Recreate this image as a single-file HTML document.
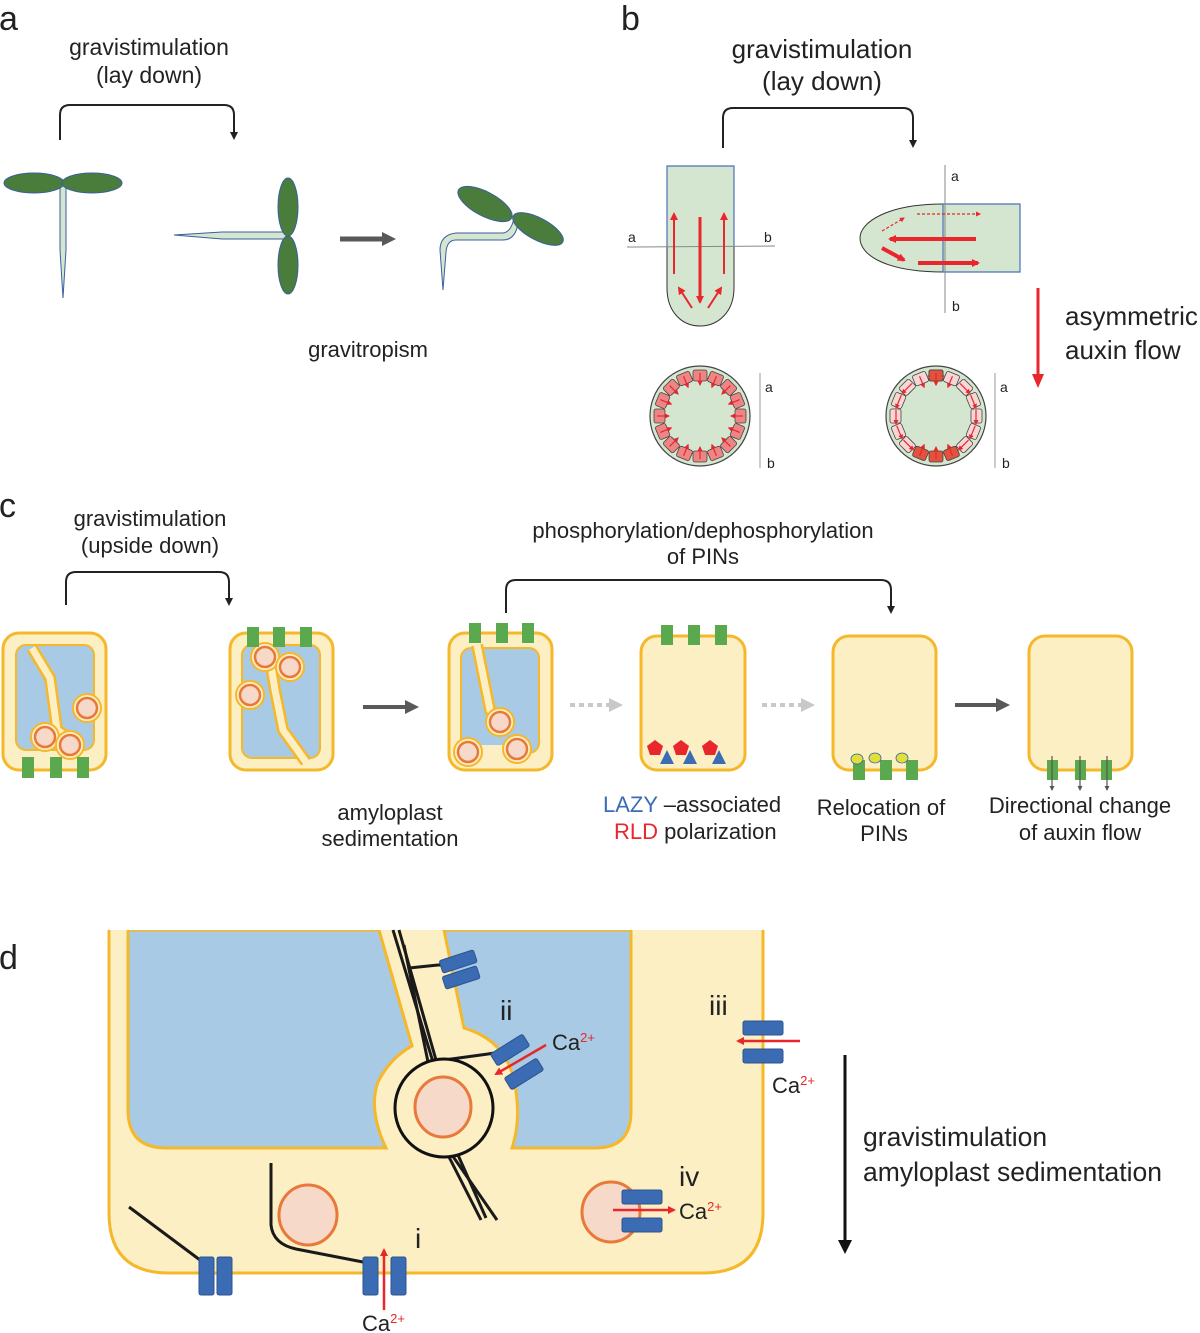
<!DOCTYPE html>
<html><head><meta charset="utf-8"><style>
html,body{margin:0;padding:0;background:#fff}
svg{display:block}
text{font-family:"Liberation Sans",sans-serif;fill:#222}
</style></head><body>
<svg width="1200" height="1333" viewBox="0 0 1200 1333" xmlns="http://www.w3.org/2000/svg">
<defs>
<marker id="ak" markerWidth="8" markerHeight="8" refX="6" refY="4" orient="auto" markerUnits="userSpaceOnUse"><path d="M0,0 L8,4 L0,8 Z" fill="#222"/></marker>
<marker id="ar" markerWidth="8" markerHeight="8" refX="6" refY="4" orient="auto" markerUnits="userSpaceOnUse"><path d="M0,0 L8,4 L0,8 Z" fill="#e8262b"/></marker>
<marker id="arb" markerWidth="14" markerHeight="12" refX="10" refY="6" orient="auto" markerUnits="userSpaceOnUse"><path d="M0,0 L14,6 L0,12 Z" fill="#e8262b"/></marker>
<marker id="ars" markerWidth="5" markerHeight="5" refX="4" refY="2.5" orient="auto" markerUnits="userSpaceOnUse"><path d="M0,0 L5,2.5 L0,5 Z" fill="#e8262b"/></marker>
<marker id="ag" markerWidth="5" markerHeight="5" refX="4" refY="2.5" orient="auto" markerUnits="userSpaceOnUse"><path d="M0,0 L5,2.5 L0,5 Z" fill="#555"/></marker>
<marker id="agb" markerWidth="14" markerHeight="14" refX="2" refY="7" orient="auto" markerUnits="userSpaceOnUse"><path d="M0,0 L14,7 L0,14 Z" fill="#595959"/></marker>
<marker id="alg" markerWidth="14" markerHeight="14" refX="2" refY="7" orient="auto" markerUnits="userSpaceOnUse"><path d="M0,0 L14,7 L0,14 Z" fill="#c8c8c8"/></marker>
<marker id="abk" markerWidth="14" markerHeight="14" refX="10" refY="7" orient="auto" markerUnits="userSpaceOnUse"><path d="M0,0 L14,7 L0,14 Z" fill="#111"/></marker>
</defs>

<!-- ===== Panel a ===== -->
<text x="-1" y="30" font-size="34">a</text>
<text x="149" y="55" font-size="23" text-anchor="middle">gravistimulation</text>
<text x="149" y="83" font-size="23" text-anchor="middle">(lay down)</text>
<path d="M60,140 V115 Q60,105 70,105 H224 Q234,105 234,115 V138" fill="none" stroke="#222" stroke-width="2" marker-end="url(#ak)"/>
<path d="M60,185 H66 V250 L63,298 L60,250 Z" fill="#d4e6d0" stroke="#3a5fa0" stroke-width="1"/>
<ellipse cx="34" cy="183" rx="30" ry="10" fill="#4a7c3c" stroke="#3a5fa0" stroke-width="1"/>
<ellipse cx="92" cy="183" rx="30" ry="10" fill="#4a7c3c" stroke="#3a5fa0" stroke-width="1"/>
<path d="M174,235 L222,232 H288 V239 H222 Z" fill="#d4e6d0" stroke="#3a5fa0" stroke-width="1"/>
<ellipse cx="288" cy="207" rx="10" ry="29" fill="#4a7c3c" stroke="#3a5fa0" stroke-width="1"/>
<ellipse cx="288" cy="265" rx="10" ry="29" fill="#4a7c3c" stroke="#3a5fa0" stroke-width="1"/>
<line x1="340" y1="239" x2="384" y2="239" stroke="#595959" stroke-width="5" marker-end="url(#agb)"/>
<path d="M443,290 L440,250 Q440,235 456,233 H503 Q510,232 513,222 L518,224 Q515,240 503,240 H456 Q447,240 446,252 L443,290 Z" fill="#d4e6d0" stroke="#3a5fa0" stroke-width="1"/>
<ellipse cx="485" cy="204" rx="30" ry="12" transform="rotate(28 485 204)" fill="#4a7c3c" stroke="#3a5fa0" stroke-width="1"/>
<ellipse cx="538" cy="229" rx="28" ry="11" transform="rotate(28 538 229)" fill="#4a7c3c" stroke="#3a5fa0" stroke-width="1"/>
<text x="368" y="357" font-size="22" text-anchor="middle">gravitropism</text>

<!-- ===== Panel b ===== -->
<text x="621" y="30" font-size="34">b</text>
<text x="822" y="58" font-size="26" text-anchor="middle">gravistimulation</text>
<text x="822" y="90" font-size="26" text-anchor="middle">(lay down)</text>
<path d="M723,148 V118 Q723,108 733,108 H903 Q913,108 913,118 V146" fill="none" stroke="#222" stroke-width="2" marker-end="url(#ak)"/>
<path d="M667,166 H734 V288 C734,312 718,326 700,326 C682,326 667,312 667,288 Z" fill="#d4e6d0" stroke="#333" stroke-width="1"/>
<path d="M667,247 V166 H734 V247" fill="none" stroke="#4a72b8" stroke-width="1.2"/>
<line x1="627" y1="247" x2="775" y2="246" stroke="#888" stroke-width="1"/>
<text x="628" y="242" font-size="14">a</text>
<text x="764" y="242" font-size="14">b</text>
<g stroke="#e8262b" fill="none">
<line x1="674" y1="274" x2="674" y2="214" stroke-width="2" marker-end="url(#ar)"/>
<line x1="724" y1="274" x2="724" y2="214" stroke-width="2" marker-end="url(#ar)"/>
<line x1="700" y1="217" x2="700" y2="302" stroke-width="3" marker-end="url(#ar)"/>
<line x1="692" y1="308" x2="679" y2="288" stroke-width="2" marker-end="url(#ar)"/>
<line x1="708" y1="308" x2="721" y2="288" stroke-width="2" marker-end="url(#ar)"/>
</g>
<path d="M1020,204 H943 C888,204 860,222 860,238 C860,256 888,272 943,272 H1020 Z" fill="#d4e6d0" stroke="#333" stroke-width="1"/>
<path d="M943,204 H1020 V272 H943 V204" fill="none" stroke="#4a72b8" stroke-width="1.2"/>
<line x1="945" y1="165" x2="945" y2="313" stroke="#888" stroke-width="1"/>
<text x="951" y="181" font-size="14">a</text>
<text x="952" y="311" font-size="14">b</text>
<g stroke="#e8262b" fill="none">
<line x1="976" y1="239" x2="890" y2="239" stroke-width="4" marker-end="url(#ar)"/>
<line x1="918" y1="263" x2="978" y2="263" stroke-width="4" marker-end="url(#ar)"/>
<line x1="882" y1="248" x2="904" y2="260" stroke-width="4" marker-end="url(#ar)"/>
<line x1="882" y1="231" x2="904" y2="218" stroke-width="1.2" stroke-dasharray="3,2" marker-end="url(#ars)"/>
<line x1="917" y1="214" x2="980" y2="214" stroke-width="1.2" stroke-dasharray="3,2" marker-end="url(#ars)"/>
</g>
<line x1="1038" y1="288" x2="1038" y2="384" stroke="#e8262b" stroke-width="3" marker-end="url(#arb)"/>
<text x="1065" y="325" font-size="26">asymmetric</text>
<text x="1065" y="359" font-size="26">auxin flow</text>

<circle cx="700" cy="416" r="50" fill="#d4e6d0" stroke="#444" stroke-width="1.2"/>
<g fill="#ee8585" stroke="#444" stroke-width="0.8">
<g id="cl">
<rect x="693" y="370" width="14" height="11" rx="2"/>
<line x1="700" y1="373" x2="700" y2="385" stroke="#e8262b" stroke-width="1.2" marker-end="url(#ars)"/>
</g>
<use href="#cl" transform="rotate(22.5 700 416)"/><use href="#cl" transform="rotate(45 700 416)"/><use href="#cl" transform="rotate(67.5 700 416)"/>
<use href="#cl" transform="rotate(90 700 416)"/><use href="#cl" transform="rotate(112.5 700 416)"/><use href="#cl" transform="rotate(135 700 416)"/>
<use href="#cl" transform="rotate(157.5 700 416)"/><use href="#cl" transform="rotate(180 700 416)"/><use href="#cl" transform="rotate(202.5 700 416)"/>
<use href="#cl" transform="rotate(225 700 416)"/><use href="#cl" transform="rotate(247.5 700 416)"/><use href="#cl" transform="rotate(270 700 416)"/>
<use href="#cl" transform="rotate(292.5 700 416)"/><use href="#cl" transform="rotate(315 700 416)"/><use href="#cl" transform="rotate(337.5 700 416)"/>
</g>
<line x1="760" y1="373" x2="760" y2="468" stroke="#999" stroke-width="1"/>
<text x="765" y="392" font-size="14">a</text>
<text x="767" y="468" font-size="14">b</text>

<circle cx="936" cy="416" r="50" fill="#d4e6d0" stroke="#444" stroke-width="1.2"/>
<g stroke="#444" stroke-width="0.8">
<g id="ct" fill="#f9d6d6"><rect x="929" y="370" width="14" height="11" rx="2"/><line x1="936" y1="373" x2="936" y2="385" stroke="#e8262b" stroke-width="1.2" marker-end="url(#ars)"/></g>
<use href="#ct" transform="rotate(22.5 936 416)"/><use href="#ct" transform="rotate(-22.5 936 416)"/>
<g id="cr" fill="#f9d6d6"><rect x="929" y="370" width="14" height="11" rx="2"/><line x1="930" y1="376" x2="944" y2="376" stroke="#e8262b" stroke-width="1.2" marker-end="url(#ars)"/></g>
<use href="#cr" transform="rotate(45 936 416)"/><use href="#cr" transform="rotate(67.5 936 416)"/><use href="#cr" transform="rotate(90 936 416)"/><use href="#cr" transform="rotate(112.5 936 416)"/><use href="#cr" transform="rotate(135 936 416)"/>
<g id="cf" fill="#f9d6d6"><rect x="929" y="370" width="14" height="11" rx="2"/><line x1="942" y1="376" x2="928" y2="376" stroke="#e8262b" stroke-width="1.2" marker-end="url(#ars)"/></g>
<use href="#cf" transform="rotate(-45 936 416)"/><use href="#cf" transform="rotate(-67.5 936 416)"/><use href="#cf" transform="rotate(-90 936 416)"/><use href="#cf" transform="rotate(-112.5 936 416)"/><use href="#cf" transform="rotate(-135 936 416)"/>
<g id="cb" fill="#e2533e"><rect x="929" y="370" width="14" height="11" rx="2"/><line x1="936" y1="373" x2="936" y2="385" stroke="#e8262b" stroke-width="1.2" marker-end="url(#ars)"/></g>
<use href="#cb" transform="rotate(180 936 416)"/><use href="#cb" transform="rotate(157.5 936 416)"/><use href="#cb" transform="rotate(202.5 936 416)"/>
</g>
<line x1="995" y1="373" x2="995" y2="468" stroke="#999" stroke-width="1"/>
<text x="1000" y="392" font-size="14">a</text>
<text x="1002" y="468" font-size="14">b</text>

<!-- ===== Panel c ===== -->
<text x="-1" y="517" font-size="34">c</text>
<text x="150" y="526" font-size="22" text-anchor="middle">gravistimulation</text>
<text x="150" y="553" font-size="22" text-anchor="middle">(upside down)</text>
<path d="M66,605 V582 Q66,572 76,572 H219 Q229,572 229,582 V604" fill="none" stroke="#222" stroke-width="2" marker-end="url(#ak)"/>
<text x="703" y="538" font-size="22" text-anchor="middle">phosphorylation/dephosphorylation</text>
<text x="703" y="564" font-size="22" text-anchor="middle">of PINs</text>
<path d="M506,613 V590 Q506,580 516,580 H881 Q891,580 891,590 V612" fill="none" stroke="#222" stroke-width="2" marker-end="url(#ak)"/>

<g stroke="#f5b82a" stroke-width="3">
<rect x="3" y="633" width="103" height="137" rx="16" fill="#fcefc4"/>
<rect x="16" y="645" width="78" height="105" rx="10" fill="#a8cae4" stroke-width="2"/>
<polyline points="32,648 50,678 57,730 75,742" fill="none" stroke-width="12" stroke-linejoin="round"/>
<polyline points="32,648 50,678 57,730 75,742" fill="none" stroke="#fcefc4" stroke-width="7" stroke-linejoin="round"/>
<circle cx="87" cy="708" r="14" fill="#fcefc4" stroke-width="2"/><circle cx="45" cy="737" r="14" fill="#fcefc4" stroke-width="2"/><circle cx="70" cy="745" r="14" fill="#fcefc4" stroke-width="2"/>
<rect x="230" y="633" width="103" height="137" rx="16" fill="#fcefc4"/>
<rect x="242" y="645" width="78" height="113" rx="10" fill="#a8cae4" stroke-width="2"/>
<polyline points="270,660 275,690 283,730 306,762" fill="none" stroke-width="12" stroke-linejoin="round"/>
<polyline points="270,660 275,690 283,730 306,762" fill="none" stroke="#fcefc4" stroke-width="7" stroke-linejoin="round"/>
<circle cx="265" cy="657" r="14" fill="#fcefc4" stroke-width="2"/><circle cx="290" cy="667" r="14" fill="#fcefc4" stroke-width="2"/><circle cx="250" cy="695" r="14" fill="#fcefc4" stroke-width="2"/>
<rect x="449" y="633" width="103" height="137" rx="16" fill="#fcefc4"/>
<rect x="461" y="648" width="78" height="105" rx="10" fill="#a8cae4" stroke-width="2"/>
<polyline points="477,645 490,710 500,722" fill="none" stroke-width="12" stroke-linejoin="round"/>
<polyline points="477,645 490,710 500,722" fill="none" stroke="#fcefc4" stroke-width="7" stroke-linejoin="round"/>
<rect x="465" y="745" width="60" height="12" fill="#fcefc4" stroke="none"/>
<circle cx="500" cy="722" r="14" fill="#fcefc4" stroke-width="2"/><circle cx="468" cy="752" r="14" fill="#fcefc4" stroke-width="2"/><circle cx="517" cy="749" r="14" fill="#fcefc4" stroke-width="2"/>
<rect x="641" y="636" width="104" height="134" rx="16" fill="#fcefc4"/>
<rect x="833" y="636" width="103" height="134" rx="16" fill="#fcefc4"/>
<rect x="1029" y="636" width="103" height="134" rx="16" fill="#fcefc4"/>
</g>
<g fill="#f6d9c9" stroke="#e8793a" stroke-width="2.5">
<circle cx="87" cy="708" r="10"/><circle cx="45" cy="737" r="10"/><circle cx="70" cy="745" r="10"/>
<circle cx="265" cy="657" r="10"/><circle cx="290" cy="667" r="10"/><circle cx="250" cy="695" r="10"/>
<circle cx="500" cy="722" r="10"/><circle cx="468" cy="752" r="10"/><circle cx="517" cy="749" r="10"/>
</g>
<g fill="#5aa94e">
<rect x="22" y="757" width="12" height="21"/><rect x="50" y="757" width="12" height="21"/><rect x="77" y="757" width="12" height="21"/>
<rect x="247" y="627" width="12" height="20"/><rect x="273" y="627" width="12" height="20"/><rect x="300" y="627" width="12" height="20"/>
<rect x="469" y="623" width="12" height="20"/><rect x="496" y="623" width="12" height="20"/><rect x="522" y="623" width="12" height="20"/>
<rect x="661" y="625" width="12" height="20"/><rect x="688" y="625" width="12" height="20"/><rect x="715" y="625" width="12" height="20"/>
<rect x="853" y="760" width="12" height="20"/><rect x="880" y="760" width="12" height="20"/><rect x="906" y="760" width="12" height="20"/>
<rect x="1047" y="760" width="11" height="20"/><rect x="1075" y="760" width="11" height="20"/><rect x="1101" y="760" width="11" height="20"/>
</g>
<g fill="#e8262b">
<polygon points="655,740 663,746 660,755 650,755 647,746"/>
<polygon points="681,740 689,746 686,755 676,755 673,746"/>
<polygon points="710,740 718,746 715,755 705,755 702,746"/>
</g>
<g fill="#3a6db4">
<polygon points="667,750 674,764 660,764"/><polygon points="690,750 697,764 683,764"/><polygon points="719,750 726,764 712,764"/>
</g>
<g fill="#e1e03a" stroke="#3a5fa0" stroke-width="0.8">
<ellipse cx="857" cy="759" rx="6" ry="5"/><ellipse cx="875" cy="758" rx="6" ry="5"/><ellipse cx="902" cy="758" rx="6" ry="5"/>
</g>
<g stroke="#555" stroke-width="1.2">
<line x1="1052" y1="756" x2="1052" y2="790" marker-end="url(#ag)"/>
<line x1="1080" y1="756" x2="1080" y2="790" marker-end="url(#ag)"/>
<line x1="1107" y1="756" x2="1107" y2="790" marker-end="url(#ag)"/>
</g>
<line x1="363" y1="707" x2="407" y2="707" stroke="#595959" stroke-width="4" marker-end="url(#agb)"/>
<line x1="955" y1="705" x2="998" y2="705" stroke="#595959" stroke-width="4" marker-end="url(#agb)"/>
<line x1="570" y1="705" x2="611" y2="705" stroke="#c8c8c8" stroke-width="4" stroke-dasharray="5,4" marker-end="url(#alg)"/>
<line x1="762" y1="705" x2="803" y2="705" stroke="#c8c8c8" stroke-width="4" stroke-dasharray="5,4" marker-end="url(#alg)"/>
<text x="390" y="820" font-size="22" text-anchor="middle">amyloplast</text>
<text x="390" y="846" font-size="22" text-anchor="middle">sedimentation</text>
<text x="603" y="812" font-size="22"><tspan fill="#3a6db4">LAZY</tspan> –associated</text>
<text x="614" y="839" font-size="22"><tspan fill="#e8262b">RLD</tspan> polarization</text>
<text x="881" y="815" font-size="22" text-anchor="middle">Relocation of</text>
<text x="884" y="841" font-size="22" text-anchor="middle">PINs</text>
<text x="1080" y="813" font-size="22" text-anchor="middle">Directional change</text>
<text x="1080" y="840" font-size="22" text-anchor="middle">of auxin flow</text>

<!-- ===== Panel d ===== -->
<text x="-1" y="969" font-size="34">d</text>
<path d="M109,930 V1213 Q109,1273 169,1273 H703 Q763,1273 763,1213 V930" fill="#fcefc4" stroke="#f5b82a" stroke-width="3"/>
<path d="M128,930 V1110 Q128,1148 166,1148 H386 Q368,1110 378,1082 Q390,1058 412,1046 L379,930 Z" fill="#a8cae4" stroke="#f5b82a" stroke-width="3"/>
<path d="M444,930 L464,1028 Q505,1040 514,1080 Q522,1118 512,1148 H595 Q631,1148 631,1112 V930 Z" fill="#a8cae4" stroke="#f5b82a" stroke-width="3"/>
<rect x="120" y="925" width="650" height="5" fill="#fff"/>
<g stroke="#1a1a1a" stroke-width="3" fill="none">
<line x1="393" y1="930" x2="433" y2="1062"/>
<line x1="399" y1="930" x2="436" y2="1060"/>
<line x1="404" y1="945" x2="428" y2="1062"/>
<polyline points="409,968 438,965 446,965"/>
<polyline points="444,1060 488,1054 500,1052"/>
<line x1="448" y1="1155" x2="481" y2="1220"/>
<line x1="452" y1="1155" x2="497" y2="1220"/>
<line x1="458" y1="1155" x2="486" y2="1218"/>
<line x1="129" y1="1207" x2="200" y2="1260"/>
<path d="M271,1163 V1225 Q273,1244 296,1249 L363,1262"/>
</g>
<circle cx="444" cy="1108" r="49" fill="#fcefc4" stroke="#111" stroke-width="3"/>
<ellipse cx="443" cy="1107" rx="28" ry="30" fill="#f6d9c9" stroke="#e8793a" stroke-width="3"/>
<ellipse cx="308" cy="1215" rx="29" ry="30" fill="#f6d9c9" stroke="#e8793a" stroke-width="3"/>
<ellipse cx="611" cy="1212" rx="29" ry="30" fill="#f6d9c9" stroke="#e8793a" stroke-width="3"/>
<g fill="#3a6bb3" stroke="#2d5590" stroke-width="1">
<rect x="440" y="955" width="36" height="13" rx="2" transform="rotate(-18 458 961)"/>
<rect x="443" y="971" width="36" height="13" rx="2" transform="rotate(-18 461 977)"/>
<rect x="491" y="1043" width="38" height="14" rx="2" transform="rotate(-32 510 1050)"/>
<rect x="505" y="1067" width="38" height="14" rx="2" transform="rotate(-32 524 1074)"/>
<rect x="743" y="1021" width="40" height="14" rx="2"/>
<rect x="743" y="1049" width="40" height="14" rx="2"/>
<rect x="622" y="1190" width="40" height="14" rx="2"/>
<rect x="622" y="1218" width="40" height="14" rx="2"/>
<rect x="199" y="1257" width="15" height="38" rx="2"/><rect x="217" y="1257" width="15" height="38" rx="2"/>
<rect x="363" y="1257" width="15" height="38" rx="2"/><rect x="391" y="1257" width="15" height="38" rx="2"/>
</g>
<g stroke="#e8262b" stroke-width="2.5" fill="none">
<line x1="546" y1="1045" x2="496" y2="1074" marker-end="url(#ar)"/>
<line x1="800" y1="1041" x2="738" y2="1041" marker-end="url(#ar)"/>
<line x1="613" y1="1210" x2="674" y2="1210" marker-end="url(#ar)"/>
<line x1="384" y1="1310" x2="384" y2="1250" marker-end="url(#ar)"/>
</g>
<g font-size="22">
<text x="552" y="1050" fill="#e8262b">Ca<tspan font-size="13" dy="-8" fill="#e8262b">2+</tspan></text>
<text x="772" y="1093" fill="#e8262b">Ca<tspan font-size="13" dy="-8" fill="#e8262b">2+</tspan></text>
<text x="679" y="1219" fill="#e8262b">Ca<tspan font-size="13" dy="-8" fill="#e8262b">2+</tspan></text>
<text x="362" y="1331" fill="#e8262b">Ca<tspan font-size="13" dy="-8" fill="#e8262b">2+</tspan></text>
</g>
<text x="500" y="1020" font-size="28">ii</text>
<text x="709" y="1015" font-size="28">iii</text>
<text x="679" y="1186" font-size="28">iv</text>
<text x="415" y="1248" font-size="28">i</text>
<line x1="845" y1="1055" x2="845" y2="1250" stroke="#111" stroke-width="3" marker-end="url(#abk)"/>
<text x="863" y="1146" font-size="26.5">gravistimulation</text>
<text x="863" y="1181" font-size="26.5">amyloplast sedimentation</text>
</svg>
</body></html>
